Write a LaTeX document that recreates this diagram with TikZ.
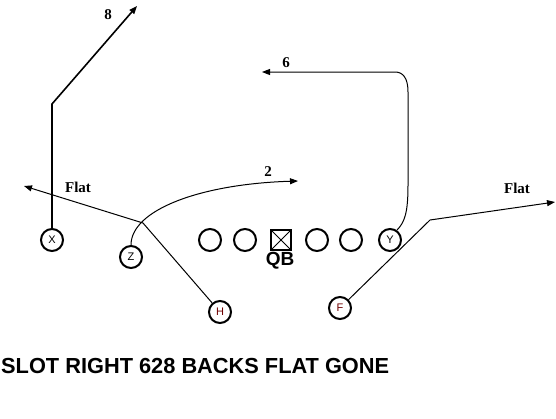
\documentclass[tikz,border=0pt]{standalone}
\usepackage{fontspec}
\setmainfont{Liberation Serif}
\setsansfont{Liberation Sans}
\usetikzlibrary{arrows.meta}
\definecolor{maroonH}{RGB}{110,0,0}
\begin{document}
\begin{tikzpicture}[x=1pt,y=-1pt,
  player/.style={circle,draw,line width=2pt,minimum size=22pt,inner sep=0pt,
    font=\sffamily\fontsize{11}{11}\selectfont},
  oline/.style={circle,draw,line width=2pt,minimum size=22pt,inner sep=0pt},
  route/.style={line width=1pt,-{Triangle[length=8pt,width=6pt]}},
  rlabel/.style={font=\bfseries\fontsize{15}{15}\selectfont,inner sep=0pt},
]
\useasboundingbox (0,0) rectangle (556,418);
% players
\node[player] (X) at (52,240) {X};
\node[player] (Z) at (131,257) {Z};
\node[player,text=maroonH] (H) at (220,312) {H};
\node[player,text=maroonH] (F) at (340,308) {F};
\node[player] (Y) at (390,240) {Y};
\node[oline] (L1) at (210,240) {};
\node[oline] (L2) at (245,240) {};
\node[oline] (R1) at (317,240) {};
\node[oline] (R2) at (351,240) {};
\node[draw,line width=2pt,minimum size=20pt,inner sep=0pt,
  path picture={\draw[line width=0.9pt] (path picture bounding box.south west) -- (path picture bounding box.north east)
   (path picture bounding box.north west) -- (path picture bounding box.south east);}] (C) at (281,240) {};
\node[font=\sffamily\bfseries\fontsize{19}{19}\selectfont,inner sep=0pt] (QB) at (280,261) {QB};
% route points
\coordinate (x1) at (52,104);
\coordinate (x2) at (137,6);
\coordinate (z1) at (298,181);
\coordinate (h1) at (143,223);
\coordinate (h2) at (24,186);
\coordinate (y1) at (408,185);
\coordinate (y2) at (408,92);
\coordinate (y3) at (395,72);
\coordinate (y4) at (262,72);
\coordinate (f1) at (430,220);
\coordinate (f2) at (555,202);
% routes
\draw[route,line width=1.6pt] (X) -- (x1) -- (x2);
\draw[route] (Z.north) .. controls (131,210) and (200,184) .. (z1);
\draw[route] (H) -- (h1) -- (h2);
\draw[route] (Y.55) .. controls (405,222) and (408,212) .. (y1) -- (y2) .. controls (408,78) and (403,72) .. (y3) -- (y4);
\draw[route] (F) -- (f1) -- (f2);
% labels
\node[rlabel] (l8) at (108,15) {8};
\node[rlabel] (l6) at (286,63) {6};
\node[rlabel] (l2) at (268,172) {2};
\node[rlabel] (fl1) at (78,187) {Flat};
\node[rlabel] (fl2) at (517,188) {Flat};
% title
\node[anchor=west,inner sep=0pt] (T) at (1,366) {\resizebox{388pt}{!}{\sffamily\bfseries\fontsize{21}{21}\selectfont SLOT RIGHT 628 BACKS FLAT GONE}};
\end{tikzpicture}
\end{document}
